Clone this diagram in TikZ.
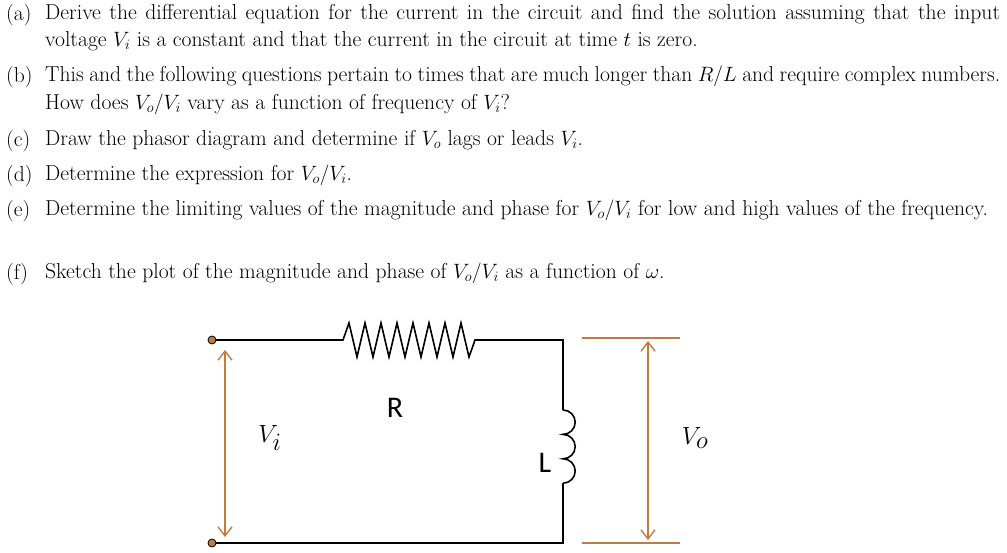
\documentclass[tikz,border=0pt]{standalone}
\usepackage{fontspec}
\newfontfamily\carfont{Carlito}
\usetikzlibrary{arrows.meta}
\definecolor{brn}{RGB}{190,125,65}
\begin{document}
\begin{tikzpicture}[x=1pt,y=-1pt,
 wire/.style={line width=1.6pt,black},
 meas/.style={line width=1.4pt,brn},
 marr/.style={meas,{Straight Barb[length=9pt,width=14pt]}-{Straight Barb[length=9pt,width=14pt]}},
 item/.style={anchor=north west,text width=955pt,align=justify,inner sep=0pt,font=\fontsize{21.6}{27.5}\selectfont},
 lab/.style={anchor=north west,inner sep=0pt,font=\fontsize{21.6}{27.5}\selectfont}]
\useasboundingbox (0,0) rectangle (1007,553);
\node[lab] (la) at (6,4) {(a)};
\node[item] (ta) at (45,4) {Derive the differential equation for the current in the circuit and find the solution assuming that the input voltage $V_i$ is a constant and that the current in the circuit at time $t$ is zero.};
\node[lab] (lb) at (6,66) {(b)};
\node[item] (tb) at (45,66) {This and the following questions pertain to times that are much longer than $R/L$ and require complex numbers. How does $V_o/V_i$ vary as a function of frequency of $V_i$?};
\node[lab] (lc) at (6,130) {(c)};
\node[item] (tc) at (45,130) {Draw the phasor diagram and determine if $V_o$ lags or leads $V_i$.};
\node[lab] (ld) at (6,165) {(d)};
\node[item] (td) at (45,165) {Determine the expression for $V_o/V_i$.};
\node[lab] (le) at (6,200) {(e)};
\node[item] (te) at (45,200) {Determine the limiting values of the magnitude and phase for $V_o/V_i$ for low and high values of the frequency.};
\node[lab] (lf) at (6,263) {(f)};
\node[item] (tf) at (45,263) {Sketch the plot of the magnitude and phase of $V_o/V_i$ as a function of $\omega$.};
% circuit
\coordinate (t1) at (212,340);
\coordinate (t2) at (212,543);
\coordinate (r1) at (343,340);
\coordinate (r2) at (475,340);
\coordinate (c1) at (563,340);
\coordinate (l1) at (563,410);
\coordinate (l2) at (563,483);
\coordinate (c2) at (563,543);
\draw[wire] (t1) -- (r1) -- ++(6,-17) -- ++(8,34) -- ++(8,-34) -- ++(8,34) -- ++(8,-34) -- ++(8,34) -- ++(8,-34) -- ++(8,34) -- ++(8,-34) -- ++(8,34) -- ++(8,-34) -- ++(8,34) -- ++(8,-34) -- ++(8,34) -- ++(8,-34) -- ++(8,34) -- ++(6,-17) -- (r2) -- (c1) -- (l1);
\draw[wire] (l1) arc[start angle=-90,end angle=90,radius=12.2] arc[start angle=-90,end angle=90,radius=12.2] arc[start angle=-90,end angle=90,radius=12.2];
\draw[wire] (l2) -- (c2) -- (t2);
\fill[brn,draw=black,line width=0.8pt] (t1) circle (4pt) (t2) circle (4pt);
\draw[marr] (225,350) -- (225,537);
\draw[meas] (582,338) -- (680,338) (582,543) -- (680,543);
\draw[marr] (648,341) -- (648,540);
\node (vi) at (270,438) {\fontsize{34}{34}\selectfont$V_i$};
\node (vo) at (695,438) {\fontsize{34}{34}\selectfont$V_o$};
\node[font=\carfont\fontsize{30}{30}\selectfont] (R) at (395,408) {R};
\node[font=\carfont\fontsize{30}{30}\selectfont] (L) at (545,463) {L};
\end{tikzpicture}
\end{document}
